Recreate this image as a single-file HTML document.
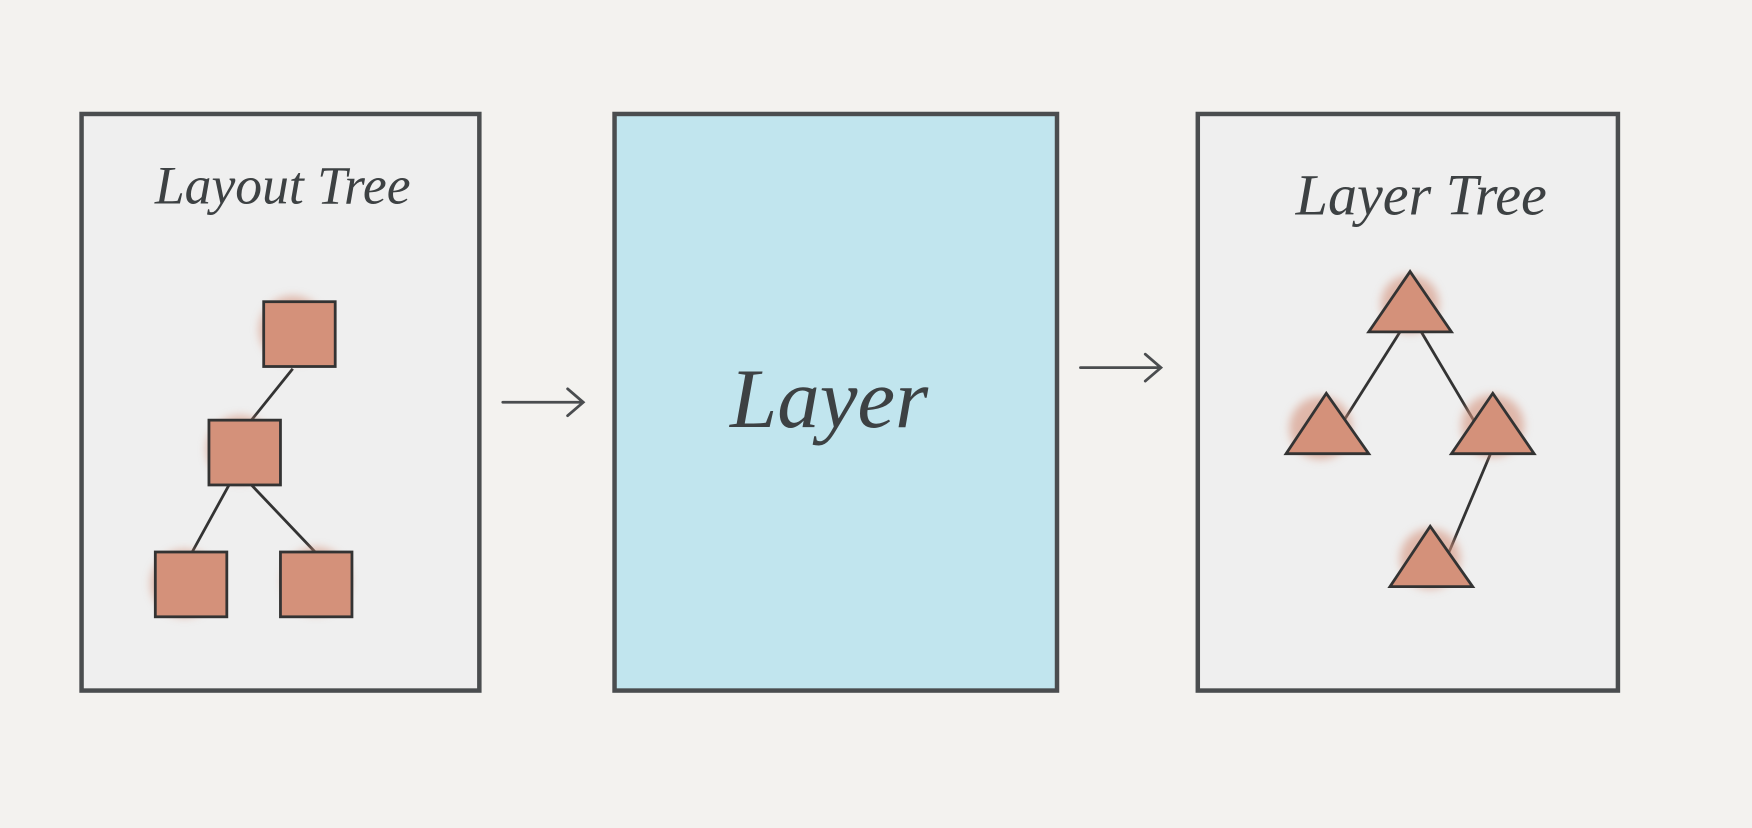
<!DOCTYPE html>
<html><head><meta charset="utf-8"><style>
html,body{margin:0;padding:0;background:#f3f2ef;}
svg{display:block;}
text{font-family:"Liberation Serif",serif;font-style:italic;fill:#3d4143;}
</style></head><body>
<svg width="1752" height="828" viewBox="0 0 1568 741" preserveAspectRatio="none" xmlns="http://www.w3.org/2000/svg">
<defs><filter id="b" x="-30%" y="-30%" width="160%" height="160%"><feGaussianBlur stdDeviation="4"/></filter></defs>
<rect width="1568" height="741" fill="#f3f2ef"/>
<g stroke="#4a4d4f" stroke-width="4">
<rect x="73" y="102" width="356" height="516" fill="#efefef"/>
<rect x="550" y="102" width="396" height="516" fill="#c1e5ee"/>
<rect x="1072" y="102" width="376" height="516" fill="#efefef"/>
</g>
<g stroke="#4a4d4f" stroke-width="2.5" fill="none" stroke-linecap="round">
<path d="M450 360 H521 M508 348 L522 360 L508 372"/>
<path d="M967 329 H1038 M1025 317 L1039 329 L1025 341"/>
</g>
<text x="253" y="182" font-size="48" text-anchor="middle">Layout Tree</text>
<text x="742" y="382" font-size="76" text-anchor="middle">Layer</text>
<text x="1272" y="192" font-size="52" text-anchor="middle">Layer Tree</text>
<g stroke="#333" stroke-width="2.5">
<line x1="262" y1="330" x2="225" y2="376"/>
<line x1="205" y1="434" x2="172" y2="494"/>
<line x1="225" y1="434" x2="282" y2="494"/>
<line x1="1253" y1="297" x2="1203" y2="376"/>
<line x1="1272" y1="297" x2="1320" y2="378"/>
<line x1="1334" y1="406" x2="1296" y2="496"/>
</g>
<g fill="#d4917a" opacity="0.6" filter="url(#b)">
<circle cx="262" cy="295" r="30"/>
<circle cx="215" cy="402" r="30"/>
<circle cx="165" cy="522" r="30"/>
<circle cx="283" cy="520" r="30"/>
<circle cx="1262" cy="272" r="26"/>
<circle cx="1182" cy="383" r="28"/>
<circle cx="1336" cy="381" r="28"/>
<circle cx="1280" cy="500" r="27"/>
</g>
<g fill="#d4917a" stroke="#333" stroke-width="2.5">
<rect x="236" y="270" width="64" height="58"/>
<rect x="187" y="376" width="64" height="58"/>
<rect x="139" y="494" width="64" height="58"/>
<rect x="251" y="494" width="64" height="58"/>
<polygon points="1262,243 1299,297 1225,297"/>
<polygon points="1187,352 1225,406 1151,406"/>
<polygon points="1336,352 1373,406 1299,406"/>
<polygon points="1280,471 1318,525 1244,525"/>
</g>
</svg>
</body></html>
